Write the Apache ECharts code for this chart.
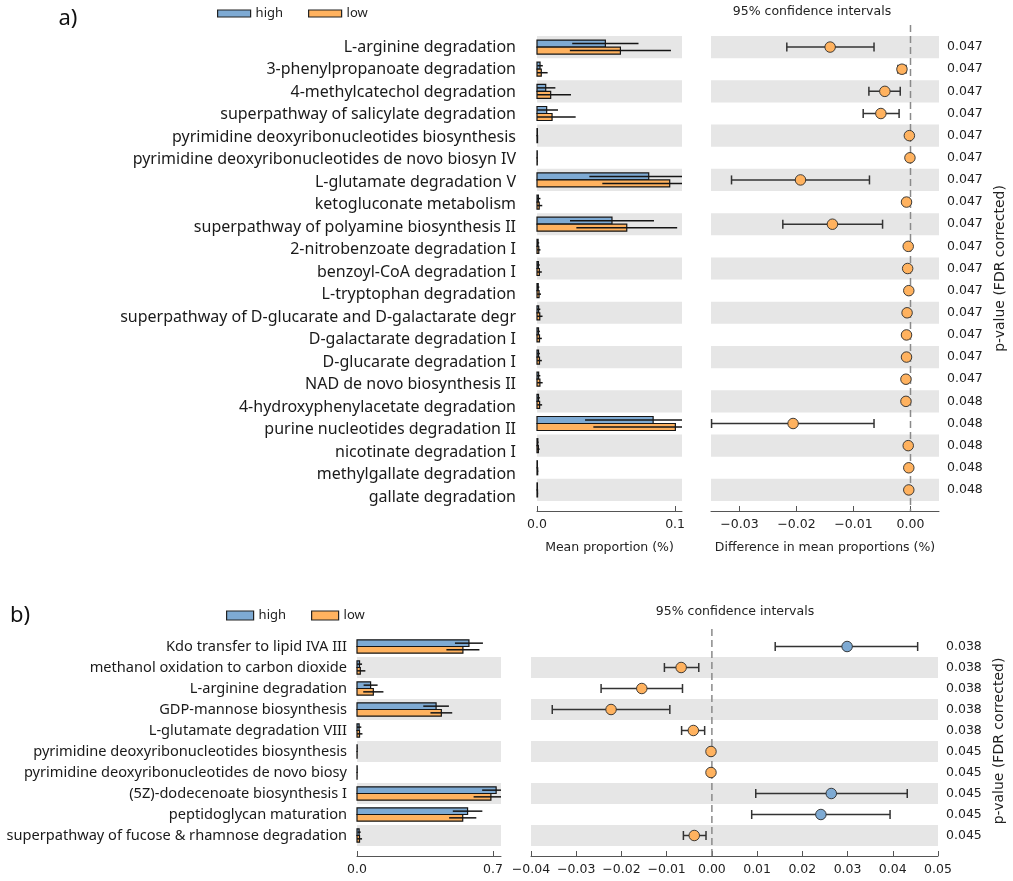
<!DOCTYPE html>
<html>
<head>
<meta charset="utf-8">
<title>extended error bar plots</title>
<script src="https://cdn.jsdelivr.net/npm/echarts@6/dist/echarts.min.js"></script>
<style>
html, body { margin: 0; padding: 0; background: #fff; }
#chart { width: 1013px; height: 881px; }
</style>
</head>
<body>
<div id="chart"></div>
<script>
// ---- panel a) , rows listed top to bottom ----
var namesA = [
    'L-arginine degradation',
    '3-phenylpropanoate degradation',
    '4-methylcatechol degradation',
    'superpathway of salicylate degradation',
    'pyrimidine deoxyribonucleotides biosynthesis',
    'pyrimidine deoxyribonucleotides de novo biosyn IV',
    'L-glutamate degradation V',
    'ketogluconate metabolism',
    'superpathway of polyamine biosynthesis II',
    '2-nitrobenzoate degradation I',
    'benzoyl-CoA degradation I',
    'L-tryptophan degradation',
    'superpathway of D-glucarate and D-galactarate degr',
    'D-galactarate degradation I',
    'D-glucarate degradation I',
    'NAD de novo biosynthesis II',
    '4-hydroxyphenylacetate degradation',
    'purine nucleotides degradation II',
    'nicotinate degradation I',
    'methylgallate degradation',
    'gallate degradation'
];
var highA   = [0.0495, 0.0022, 0.0063, 0.0070, 0.0003, 0.0002, 0.0809, 0.0010, 0.0543, 0.0008, 0.0010, 0.0009, 0.0012, 0.0011, 0.0011, 0.0012, 0.0011, 0.0841, 0.0006, 0.0003, 0.0003];
var highSdA = [0.0240, 0.0020, 0.0070, 0.0082, 0.0002, 0.0001, 0.0430, 0.0015, 0.0304, 0.0008, 0.0010, 0.0008, 0.0012, 0.0010, 0.0010, 0.0012, 0.0010, 0.0493, 0.0005, 0.0003, 0.0003];
var lowA    = [0.0604, 0.0031, 0.0099, 0.0109, 0.0004, 0.0002, 0.0961, 0.0016, 0.0650, 0.0013, 0.0017, 0.0015, 0.0020, 0.0018, 0.0018, 0.0021, 0.0019, 0.1002, 0.0010, 0.0005, 0.0004];
var lowSdA  = [0.0366, 0.0046, 0.0147, 0.0171, 0.0003, 0.0002, 0.0488, 0.0022, 0.0365, 0.0012, 0.0018, 0.0014, 0.0020, 0.0017, 0.0017, 0.0020, 0.0018, 0.0594, 0.0009, 0.0004, 0.0004];
var diffA   = [-0.0141, -0.0015, -0.0045, -0.0052, -0.0002, -0.0001, -0.0193, -0.0007, -0.0137, -0.0004, -0.0005, -0.0003, -0.0006, -0.0007, -0.0007, -0.0008, -0.0008, -0.0206, -0.0004, -0.0003, -0.0003];
var ciLowA  = [-0.0217, -0.0022, -0.0073, -0.0083, -0.0003, -0.0002, -0.0314, -0.0011, -0.0224, -0.0006, -0.0008, -0.0005, -0.0009, -0.0010, -0.0010, -0.0012, -0.0012, -0.0349, -0.0006, -0.0004, -0.0004];
var ciHighA = [-0.0064, -0.0008, -0.0018, -0.0020, -0.0001, 0.0000, -0.0072, -0.0003, -0.0049, -0.0002, -0.0002, -0.0001, -0.0003, -0.0004, -0.0004, -0.0004, -0.0004, -0.0064, -0.0002, -0.0001, -0.0001];
var pvalA   = ['0.047', '0.047', '0.047', '0.047', '0.047', '0.047', '0.047', '0.047', '0.047', '0.047', '0.047',
               '0.047', '0.047', '0.047', '0.047', '0.047', '0.048', '0.048', '0.048', '0.048', '0.048'];
var barTicksA = [0, 0.1];
var ciTicksA  = [-0.03, -0.02, -0.01, 0];

// ---- panel b) ----
var namesB = [
    'Kdo transfer to lipid IVA III',
    'methanol oxidation to carbon dioxide',
    'L-arginine degradation',
    'GDP-mannose biosynthesis',
    'L-glutamate degradation VIII',
    'pyrimidine deoxyribonucleotides biosynthesis',
    'pyrimidine deoxyribonucleotides de novo biosy',
    '(5Z)-dodecenoate biosynthesis I',
    'peptidoglycan maturation',
    'superpathway of fucose & rhamnose degradation'
];
var highB   = [0.576, 0.013, 0.070, 0.407, 0.011, 0.001, 0.001, 0.716, 0.569, 0.011];
var highSdB = [0.072, 0.013, 0.036, 0.066, 0.011, 0.001, 0.001, 0.072, 0.076, 0.008];
var lowB    = [0.545, 0.017, 0.084, 0.434, 0.013, 0.0005, 0.0005, 0.689, 0.544, 0.013];
var lowSdB  = [0.085, 0.026, 0.052, 0.056, 0.015, 0.0005, 0.0005, 0.089, 0.070, 0.013];
var diffB   = [0.0299, -0.0068, -0.0155, -0.0223, -0.0041, -0.0002, -0.0002, 0.0264, 0.0241, -0.0039];
var ciLowB  = [0.0140, -0.0105, -0.0245, -0.0353, -0.0067, -0.0003, -0.0003, 0.0097, 0.0088, -0.0063];
var ciHighB = [0.0455, -0.0029, -0.0065, -0.0093, -0.0016, -0.0001, -0.0001, 0.0432, 0.0394, -0.0013];
var pvalB   = ['0.038', '0.038', '0.038', '0.038', '0.038', '0.045', '0.045', '0.045', '0.045', '0.045'];
var barTicksB = [0, 0.7];
var ciTicksB  = [-0.04, -0.03, -0.02, -0.01, 0, 0.01, 0.02, 0.03, 0.04, 0.05];

var BLUE = '#7eaad3';
var ORANGE = '#ffb25f';
var SHADE = '#e6e6e6';
var TICK_FONT = '"DejaVu Sans", sans-serif';
var NAME_FONT = '"Noto Sans", sans-serif';

var chart = echarts.init(document.getElementById('chart'));

var grids = [], xAxes = [], yAxes = [], seriesList = [];

// shading starts from the bottom row
function shadeColors(n) {
    return n % 2 ? [SHADE, 'rgba(0,0,0,0)'] : ['rgba(0,0,0,0)', SHADE];
}

function fmtNum(v, d) {
    var s = Math.abs(v).toFixed(d);
    return v < -1e-9 ? '\u2212' + s : s;
}

// bar with std line, placed above / below the row centre
function barRender(h, upper) {
    return function (params, api) {
        var idx = api.value(1);
        var mean = api.value(0);
        var sd = api.value(2);
        var cs = params.coordSys;
        var p0 = api.coord([0, idx]);
        var p1 = api.coord([mean, idx]);
        var y = upper ? p0[1] - h : p0[1];
        var e0 = api.coord([Math.max(mean - sd, 0), idx])[0];
        var e1 = Math.min(api.coord([mean + sd, idx])[0], cs.x + cs.width);
        return {
            type: 'group',
            children: [
                {type: 'rect', shape: {x: p0[0], y: y, width: p1[0] - p0[0], height: h},
                    style: {fill: api.visual('color'), stroke: '#151515', lineWidth: 1.2}},
                {type: 'line', shape: {x1: e0, y1: y + h / 2, x2: e1, y2: y + h / 2},
                    style: {stroke: '#151515', lineWidth: 1.5}}
            ]
        };
    };
}

function ciRender(params, api) {
    var idx = api.value(1);
    var a = api.coord([api.value(2), idx]);
    var b = api.coord([api.value(3), idx]);
    var cap = 4.5;
    var st = {stroke: '#333', lineWidth: 1.5};
    return {
        type: 'group',
        children: [
            {type: 'line', shape: {x1: a[0], y1: a[1], x2: b[0], y2: b[1]}, style: st},
            {type: 'line', shape: {x1: a[0], y1: a[1] - cap, x2: a[0], y2: a[1] + cap}, style: st},
            {type: 'line', shape: {x1: b[0], y1: b[1] - cap, x2: b[0], y2: b[1] + cap}, style: st}
        ]
    };
}

function zeroRender(above, below) {
    return function (params, api) {
        var cs = params.coordSys;
        var x = api.coord([0, 0])[0];
        return {
            type: 'line',
            shape: {x1: x, y1: cs.y - above, x2: x, y2: cs.y + cs.height + below},
            style: {stroke: '#8a8a8a', lineWidth: 1.5, lineDash: [7, 4]}
        };
    };
}

function bottomAxis(gridIndex, min, max, ticks, dec, name) {
    return {
        gridIndex: gridIndex,
        type: 'value',
        min: min,
        max: max,
        offset: 10,
        axisLine: {show: true, lineStyle: {color: '#555', width: 1}},
        axisTick: {show: true, inside: true, length: 5, customValues: ticks, lineStyle: {color: '#555'}},
        axisLabel: {
            customValues: ticks,
            margin: 7,
            fontFamily: TICK_FONT,
            fontSize: 12.5,
            color: '#222',
            formatter: function (v) { return fmtNum(v, dec); }
        },
        splitLine: {show: false},
        name: name || '',
        nameLocation: 'middle',
        nameGap: 30,
        nameTextStyle: {fontFamily: TICK_FONT, fontSize: 12.5, color: '#222'}
    };
}

function addPanel(cfg) {
    var n = cfg.names.length;
    var gBar = grids.length;
    var gCi = gBar + 1;
    grids.push({left: cfg.barLeft, width: cfg.barWidth, top: cfg.top, height: cfg.height});
    grids.push({left: cfg.ciLeft, width: cfg.ciWidth, top: cfg.top, height: cfg.height});

    var xBar = xAxes.length;
    xAxes.push(bottomAxis(gBar, 0, cfg.barMax, cfg.barTicks, 1, cfg.barName));
    xAxes.push(bottomAxis(gCi, cfg.ciMin, cfg.ciMax, cfg.ciTicks, 2, cfg.ciName));

    var yBar = yAxes.length;
    yAxes.push({
        gridIndex: gBar, type: 'category', data: cfg.names, inverse: true,
        axisLine: {show: false}, axisTick: {show: false},
        axisLabel: cfg.labelGrid ? {show: false} : {
            interval: 0, margin: cfg.labelMargin, fontFamily: NAME_FONT, fontSize: cfg.nameSize, color: '#1a1a1a'
        },
        splitArea: {show: true, interval: 0, areaStyle: {color: shadeColors(n)}}
    });
    yAxes.push({
        gridIndex: gCi, type: 'category', data: cfg.names, inverse: true,
        axisLine: {show: false}, axisTick: {show: false}, axisLabel: {show: false},
        splitArea: {show: true, interval: 0, areaStyle: {color: shadeColors(n)}}
    });
    yAxes.push({
        gridIndex: gCi, type: 'category', position: 'right', data: cfg.names, inverse: true,
        axisLine: {show: false}, axisTick: {show: false},
        axisLabel: {
            interval: 0, margin: 8, fontFamily: TICK_FONT, fontSize: 12.5, color: '#222',
            formatter: function (v, i) { return cfg.pvals[i]; }
        },
        splitArea: {show: false},
        name: 'p-value (FDR corrected)',
        nameLocation: 'middle',
        nameRotate: 90,
        nameGap: 54,
        nameTextStyle: {fontFamily: TICK_FONT, fontSize: 14, color: '#222'}
    });

    if (cfg.labelGrid) {
        // pathway names sit on their own slightly taller band
        var gLab = grids.length;
        grids.push(cfg.labelGrid);
        xAxes.push({gridIndex: gLab, type: 'value', show: false});
        yAxes.push({
            gridIndex: gLab, type: 'category', data: cfg.names, inverse: true,
            axisLine: {show: false}, axisTick: {show: false},
            axisLabel: {interval: 0, margin: 0, fontFamily: NAME_FONT, fontSize: cfg.nameSize, color: '#1a1a1a'}
        });
    }

    var hiData = [], loData = [], ciData = [], dotData = [];
    for (var i = 0; i < n; i++) {
        hiData.push([cfg.high[i], i, cfg.highSd[i]]);
        loData.push([cfg.low[i], i, cfg.lowSd[i]]);
        ciData.push([cfg.diff[i], i, cfg.ciLow[i], cfg.ciHigh[i]]);
        dotData.push({value: [cfg.diff[i], i], itemStyle: {color: cfg.diff[i] > 0 ? BLUE : ORANGE}});
    }

    seriesList.push({
        name: 'high', type: 'custom', xAxisIndex: xBar, yAxisIndex: yBar,
        renderItem: barRender(cfg.barH, true), encode: {x: 0, y: 1},
        itemStyle: {color: BLUE}, data: hiData, silent: true, z: 3
    });
    seriesList.push({
        name: 'low', type: 'custom', xAxisIndex: xBar, yAxisIndex: yBar,
        renderItem: barRender(cfg.barH, false), encode: {x: 0, y: 1},
        itemStyle: {color: ORANGE}, data: loData, silent: true, z: 3
    });
    seriesList.push({
        type: 'custom', xAxisIndex: xBar + 1, yAxisIndex: yBar + 1, clip: false,
        renderItem: zeroRender(cfg.zeroAbove, 10), encode: {x: 0, y: 1},
        data: [[0, 0]], silent: true, z: 2
    });
    seriesList.push({
        type: 'custom', xAxisIndex: xBar + 1, yAxisIndex: yBar + 1,
        renderItem: ciRender, encode: {x: 0, y: 1},
        data: ciData, silent: true, z: 3
    });
    seriesList.push({
        type: 'scatter', xAxisIndex: xBar + 1, yAxisIndex: yBar + 1,
        symbolSize: 10.5,
        itemStyle: {borderColor: '#2a2a2a', borderWidth: 0.9, opacity: 1},
        data: dotData, silent: true, z: 4
    });
}

addPanel({
    names: namesA, high: highA, highSd: highSdA, low: lowA, lowSd: lowSdA,
    diff: diffA, ciLow: ciLowA, ciHigh: ciHighA, pvals: pvalA,
    top: 36, height: 465,
    barLeft: 537, barWidth: 145, barMax: 0.105, barTicks: barTicksA, barH: 7,
    ciLeft: 711, ciWidth: 228, ciMin: -0.035, ciMax: 0.005, ciTicks: ciTicksA,
    barName: 'Mean proportion (%)', ciName: 'Difference in mean proportions (%)',
    zeroAbove: 11, nameSize: 16,
    labelGrid: {left: 516, width: 1, top: 35.75, height: 472.5}
});

addPanel({
    names: namesB, high: highB, highSd: highSdB, low: lowB, lowSd: lowSdB,
    diff: diffB, ciLow: ciLowB, ciHigh: ciHighB, pvals: pvalB,
    top: 636, height: 210,
    barLeft: 357, barWidth: 144, barMax: 0.741, barTicks: barTicksB, barH: 6.7,
    ciLeft: 531, ciWidth: 407, ciMin: -0.04, ciMax: 0.05, ciTicks: ciTicksB,
    zeroAbove: 7, labelMargin: 10, nameSize: 14.6
});

function legendData() {
    return [
        {name: 'high', itemStyle: {color: BLUE, borderColor: '#222', borderWidth: 1.2}},
        {name: 'low', itemStyle: {color: ORANGE, borderColor: '#222', borderWidth: 1.2}}
    ];
}

var option = {
    animation: false,
    backgroundColor: '#fff',
    grid: grids,
    xAxis: xAxes,
    yAxis: yAxes,
    legend: [
        {
            left: 217, top: 7, padding: 0, icon: 'rect', itemWidth: 33, itemHeight: 7, itemGap: 25,
            selectedMode: false, data: legendData(),
            textStyle: {fontFamily: NAME_FONT, fontSize: 13, color: '#222'}
        },
        {
            left: 226, top: 609, padding: 0, icon: 'rect', itemWidth: 27, itemHeight: 9, itemGap: 25,
            selectedMode: false, data: legendData(),
            textStyle: {fontFamily: NAME_FONT, fontSize: 13, color: '#222'}
        }
    ],
    graphic: [
        {type: 'text', x: 68, y: 19, style: {text: 'a)', font: '22px "Noto Sans"', fill: '#111', align: 'center', verticalAlign: 'middle'}},
        {type: 'text', x: 20, y: 616, style: {text: 'b)', font: '22px "Noto Sans"', fill: '#111', align: 'center', verticalAlign: 'middle'}},
        {type: 'text', x: 812, y: 12, style: {text: '95% confidence intervals', font: '12.5px "DejaVu Sans"', fill: '#222', align: 'center', verticalAlign: 'middle'}},
        {type: 'text', x: 735, y: 612, style: {text: '95% confidence intervals', font: '12.5px "DejaVu Sans"', fill: '#222', align: 'center', verticalAlign: 'middle'}}
    ],
    series: seriesList
};

chart.setOption(option);
</script>
</body>
</html>
